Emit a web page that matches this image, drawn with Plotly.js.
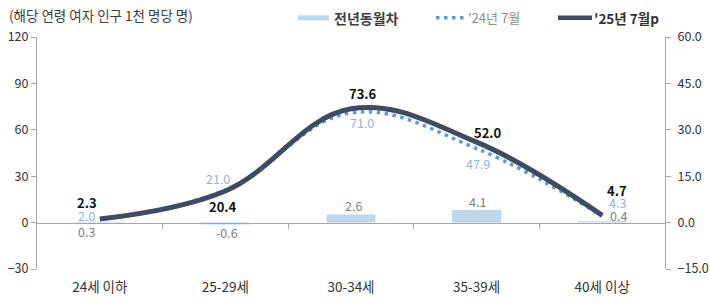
<!DOCTYPE html>
<html><head><meta charset="utf-8">
<script src="https://cdn.plot.ly/plotly-3.0.1.min.js"></script>
<style>body{margin:0;padding:0;background:#fff}#c{width:710px;height:303px}</style>
</head><body><div id="c"></div>
<script>
const categories = ['24세 이하', '25-29세', '30-34세', '35-39세', '40세 이상'];
const diffYoY = [0.3, -0.6, 2.6, 4.1, 0.4];
const rate2024 = [2.0, 21.0, 71.0, 47.9, 4.3];
const rate2025 = [2.3, 20.4, 73.6, 52.0, 4.7];
const diffLabels = ['0.3', '-0.6', '2.6', '4.1', '0.4'];
const labels2024 = ['2.0', '21.0', '71.0', '47.9', '4.3'];
const labels2025 = ['2.3', '20.4', '73.6', '52.0', '4.7'];
const leftTicks = [-30, 0, 30, 60, 90, 120];
const rightTicks = [-15, 0, 15, 30, 45, 60];
const seriesNames = ['전년동월차', '\'24년 7월', '\'25년 7월p'];
const unitText = '(해당 연령 여자 인구 1천 명당 명)';

const FONT = '"Noto Sans CJK KR", "Noto Sans", sans-serif';
const C25 = '#3E4B63', C24 = '#5B9BD5', CBAR = '#BDD7EE';
const DOT = '3.5px,4.5px';

const traces = [
  {type:'bar', x:categories, y:diffYoY, yaxis:'y2', name:seriesNames[0],
   marker:{color:CBAR}, width:0.39, hoverinfo:'skip'},
  {type:'scatter', mode:'lines', x:categories, y:rate2024, name:seriesNames[1],
   line:{color:C24, width:3.5, dash:DOT, shape:'spline', smoothing:1.1}},
  {type:'scatter', mode:'lines', x:categories, y:rate2025, name:seriesNames[2],
   line:{color:C25, width:5, shape:'spline', smoothing:1.1}},
  // zero baseline axis carrier
  {type:'scatter', mode:'lines', x:categories, y:[0,0,0,0,0], xaxis:'x2', hoverinfo:'skip',
   line:{width:0}}
];

const ann = [];
const off25 = [[-13,17],[-2,-15],[12,15],[11,10],[15,25]];
const off24 = [[-13,4],[-7,12],[11,-10],[1,-15],[15,13]];
const offD = [[-13,-10],[2,-8],[2,9],[1,8],[16,6]];
const LF = 12.5;
categories.forEach((c,i)=>{
  ann.push({x:c, y:rate2025[i], xref:'x', yref:'y', text:'<b>'+labels2025[i]+'</b>', showarrow:false,
    xshift:off25[i][0], yshift:off25[i][1], font:{family:FONT, size:13, color:'#111'}});
  ann.push({x:c, y:rate2024[i], xref:'x', yref:'y', text:labels2024[i], showarrow:false,
    xshift:off24[i][0], yshift:off24[i][1], font:{family:FONT, size:LF, color:'#8DB4E2'}});
  ann.push({x:c, y:diffYoY[i], xref:'x', yref:'y2', text:diffLabels[i], showarrow:false,
    xshift:offD[i][0], yshift:offD[i][1], font:{family:FONT, size:LF, color:'#7F7F7F'}});
});

// paper-coordinate helpers for the legend/title (pixel layout of the page)
const PL=37, PW=628, PB=269.3, PH=232.6;
const px = v => (v-PL)/PW, py = v => (PB-v)/PH;
ann.push({xref:'paper', yref:'paper', x:px(7), y:py(15), xanchor:'left', yanchor:'middle',
  text:unitText, showarrow:false, font:{family:FONT, size:13.5, color:'#404040'}});
ann.push({xref:'paper', yref:'paper', x:px(332), y:py(17.5), xanchor:'left', yanchor:'middle',
  text:'<b>'+seriesNames[0]+'</b>', showarrow:false, font:{family:FONT, size:14, color:'#404040'}});
ann.push({xref:'paper', yref:'paper', x:px(466), y:py(17.5), xanchor:'left', yanchor:'middle',
  text:seriesNames[1], showarrow:false, font:{family:FONT, size:13, color:'#8C8C8C'}});
ann.push({xref:'paper', yref:'paper', x:px(592), y:py(17.5), xanchor:'left', yanchor:'middle',
  text:'<b>'+seriesNames[2]+'</b>', showarrow:false, font:{family:FONT, size:13.5, color:'#333'}});

const shapes = [
  {type:'rect', xref:'paper', yref:'paper', x0:px(298), x1:px(329), y0:py(20), y1:py(15),
   fillcolor:CBAR, line:{width:0}},
  {type:'line', xref:'paper', yref:'paper', x0:px(436), x1:px(466), y0:py(17.5), y1:py(17.5),
   line:{color:C24, width:3.5, dash:DOT}},
  {type:'line', xref:'paper', yref:'paper', x0:px(558), x1:px(592), y0:py(17.5), y1:py(17.5),
   line:{color:C25, width:4.5}}
];

const layout = {
  width:710, height:303,
  margin:{l:37, r:45, t:37, b:34, autoexpand:false},
  paper_bgcolor:'#fff', plot_bgcolor:'#fff',
  font:{family:FONT, size:12, color:'#333'},
  showlegend:false,
  bargap:0.6,
  xaxis:{type:'category', range:[-0.5,4.5], showline:false, ticks:'', showgrid:false, zeroline:false,
    tickfont:{family:FONT, size:13.5, color:'#333'}, ticklabelstandoff:8},
  xaxis2:{type:'category', overlaying:'x', anchor:'free', position:0.2, range:[-0.5,4.5],
    showline:true, linecolor:'#A6A6A6', linewidth:1, ticks:'outside', ticklen:5, tickcolor:'#A6A6A6',
    tickmode:'array', tickvals:[0.5,1.5,2.5,3.5], ticktext:['','','',''], showticklabels:false, showgrid:false, zeroline:false},
  yaxis:{range:[-30,120], tickvals:leftTicks, showline:true, linecolor:'#A6A6A6', ticks:'outside', ticklen:5,
    tickcolor:'#A6A6A6', showgrid:false, zeroline:false, tickfont:{family:FONT, size:12.5, color:'#333'}},
  yaxis2:{range:[-15,60], tickvals:rightTicks, tickformat:'.1f', overlaying:'y', side:'right', showline:true,
    linecolor:'#A6A6A6', ticks:'outside', ticklen:5, tickcolor:'#A6A6A6', showgrid:false, zeroline:false,
    tickfont:{family:FONT, size:12.5, color:'#333'}, ticklabelstandoff:4},
  annotations:ann, shapes:shapes
};
Plotly.newPlot('c', traces, layout, {displayModeBar:false, staticPlot:true});
</script></body></html>
